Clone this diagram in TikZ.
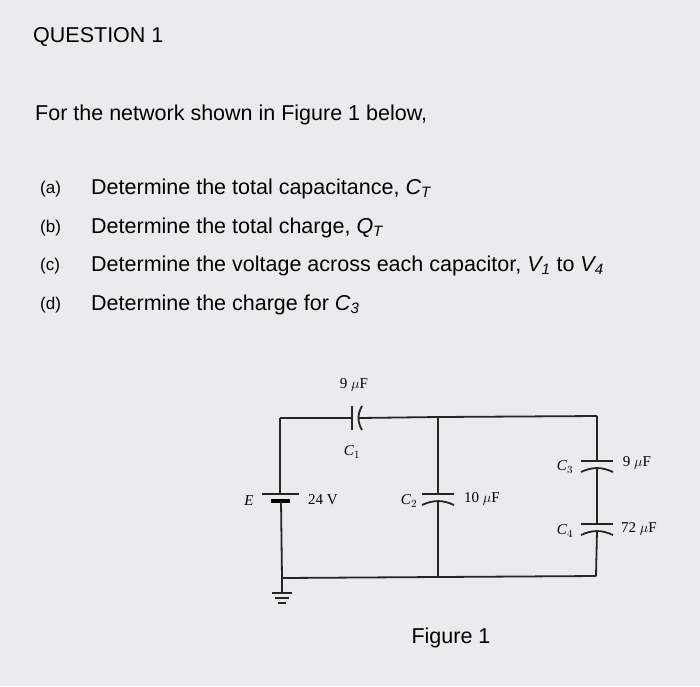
\documentclass[tikz,border=0pt]{standalone}
\usepackage{fontspec}
\setmainfont{Liberation Serif}
\newfontfamily\sans{Liberation Sans}
\begin{document}
\begin{tikzpicture}[x=1pt,y=-1pt,
  q/.style={anchor=west,font=\sans\fontsize{21.5}{24}\selectfont,inner sep=0},
  ql/.style={anchor=west,font=\sans\fontsize{17}{20}\selectfont,inner sep=0},
  lab/.style={font=\fontsize{15}{17}\selectfont,inner sep=1pt},
  wire/.style={line width=1.8pt,draw=black!85}]
\fill[blue!6!gray!15] (0,0) rectangle (700,686);
\useasboundingbox (0,0) rectangle (700,686);
\node[q] (t0) at (33,37) {QUESTION 1};
\node[q] (t1) at (35,115) {For the network shown in Figure 1 below,};
\node[ql] (la) at (40,189) {(a)}; \node[q] (ta) at (91,189) {Determine the total capacitance, \textit{C\textsubscript{T}}};
\node[ql] (lb) at (40,228) {(b)}; \node[q] (tb) at (91,228) {Determine the total charge, \textit{Q\textsubscript{T}}};
\node[ql] (lc) at (40,266) {(c)}; \node[q] (tc) at (91,266) {Determine the voltage across each capacitor, \textit{V\textsubscript{1}} to \textit{V\textsubscript{4}}};
\node[ql] (ld) at (40,305) {(d)}; \node[q] (td) at (91,305) {Determine the charge for \textit{C\textsubscript{3}}};
% circuit
\coordinate (tl) at (280,418); \coordinate (tm) at (438,417); \coordinate (tr) at (597,416);
\coordinate (bl) at (282,578); \coordinate (bm) at (438,577); \coordinate (br) at (596,576);
\draw[wire] (tl) -- (352,418); \draw[wire] (352,406) -- (352,430);
\draw[wire] (362,406) to[bend right=30] (362,430);
\draw[wire] (359,418) -- (tm) -- (tr);
\draw[wire] (tl) -- (280,494);
\draw[wire] (262,494) -- (299,494);
\draw[line width=3.5pt] (271,501) -- (290,501);
\draw[wire] (281,501) -- (bl) -- (bm) -- (br);
\draw[wire] (bl) -- (282,593);
\draw[wire] (272,593) -- (292,593); \draw[wire] (275,598) -- (289,598); \draw[wire] (278,603) -- (286,603);
\draw[wire] (tm) -- (438,494); \draw[wire] (422,494) -- (454,494);
\draw[wire] (422,505) to[bend left=25] (454,505);
\draw[wire] (438,500) -- (bm);
\draw[wire] (tr) -- (597,461); \draw[wire] (581,461) -- (613,461);
\draw[wire] (581,472) to[bend left=25] (613,472);
\draw[wire] (597,467) -- (597,524); \draw[wire] (581,524) -- (613,524);
\draw[wire] (581,535) to[bend left=25] (613,535);
\draw[wire] (597,530) -- (br);
% labels
\node[lab] (c1v) at (354,385) {9 $\mu$F};
\node[lab] (c1) at (352,452) {\textit{C}$_1$};
\node[lab] (e) at (249,501) {\textit{E}};
\node[lab] (ev) at (323,500) {24 V};
\node[lab] (c2) at (409,501) {\textit{C}$_2$};
\node[lab] (c2v) at (482,499) {10 $\mu$F};
\node[lab] (c3) at (565,467) {\textit{C}$_3$};
\node[lab] (c3v) at (637,463) {9 $\mu$F};
\node[lab] (c4) at (565,531) {\textit{C}$_4$};
\node[lab] (c4v) at (639,529) {72 $\mu$F};
\node[q,anchor=center] (fig) at (451,638) {Figure 1};
\end{tikzpicture}
\end{document}
